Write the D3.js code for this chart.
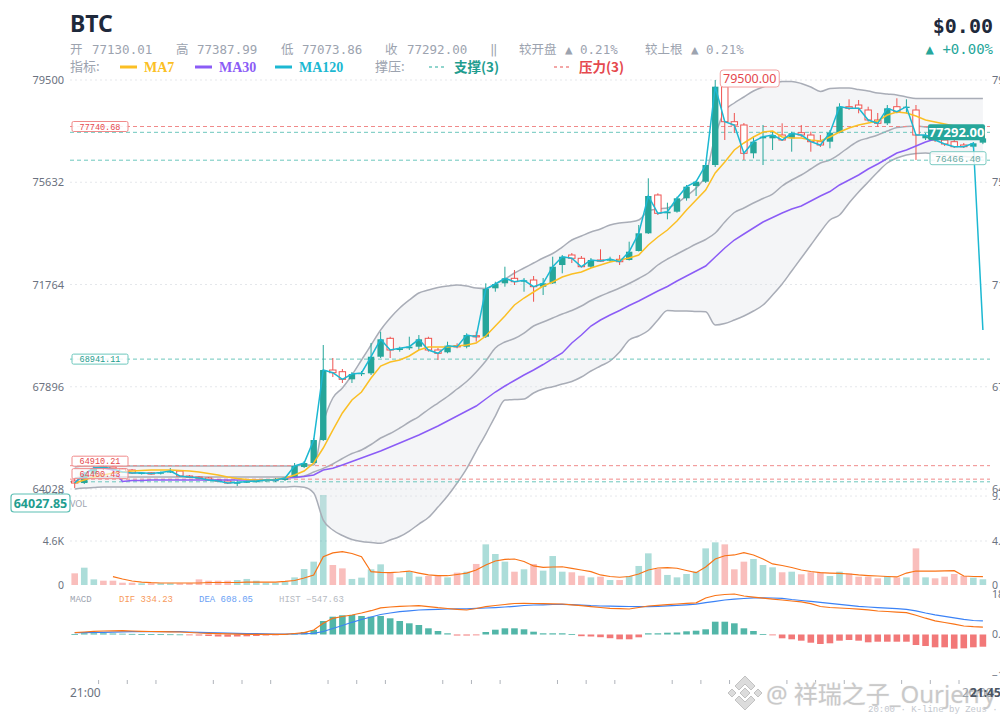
<!DOCTYPE html>
<html>
<head>
<meta charset="utf-8">
<script src="https://cdn.jsdelivr.net/npm/d3@7"></script>
<style>
  body { margin: 0; background: #fff; overflow: hidden; }
  svg { display: block; }
</style>
</head>
<body>
<svg id="chart" width="1000" height="720"></svg>
<script>
// ---- data ----
const symbol = "BTC";
const priceTicks = [64028, 67896, 71764, 75632, 79500];
const volTicks = [0, 4600, 9300];
const macdTicks = [1816.02, 0, -1816.02];
const timeLabels = ["21:00", "20:00", "21:45"];

const opens = [
  64330,64254,64595,64880,64860,64784,64746,64614,64640,64614,
  64651,64708,64519,64481,64443,64368,64330,64254,64273,64311,
  64330,64349,64368,64481,64860,65011,65881,68529,68465,68177,
  68378,68403,69032,69728,69286,69350,69411,69728,69286,69199,
  69449,69411,69827,69789,71620,71809,71998,71870,71934,71681,
  71809,72501,72880,72755,72437,72691,72664,72717,72691,73031,
  73701,75150,74457,74518,75025,75490,75653,76284,79247,77922,
  77798,76727,77294,77294,77419,77294,77506,77419,77166,77166,
  77506,78490,78554,78365,77987,77862,78490,78441,78365,77294,
  77419,77230,77166,77041,76977,77130.01];
const highs = [
  64443,64670,64898,64936,64898,64822,64784,64670,64670,64689,
  64822,64746,64557,64519,64481,64405,64368,64368,64349,64368,
  64405,64443,64481,65011,65087,65957,69475,68983,68567,68454,
  68491,69551,69978,69789,69411,69789,69853,69789,69362,69600,
  69539,69918,69978,71809,71870,72437,72312,72010,72085,72010,
  72815,72880,72955,72842,72766,73095,72815,72880,73383,74015,
  75781,75214,74858,75085,75528,75690,76360,79500,79273,78252,
  77873,77355,77798,77544,77862,77544,77798,77544,77419,77608,
  78619,78770,78743,78490,78252,78554,78808,78770,78554,77495,
  77495,77306,77230,77117,77155,77387.99];
const lows = [
  64065,64216,64519,64746,64708,64633,64595,64576,64576,64576,
  64633,64481,64443,64405,64330,64292,64216,64141,64254,64273,
  64292,64292,64330,64443,64822,64974,65843,68264,68038,68038,
  68302,68340,68983,68983,69222,69286,69286,69222,68908,69161,
  69350,69350,69600,69740,71491,71681,71745,71491,71113,71367,
  71783,72187,72577,72414,72388,72615,72626,72501,72672,73012,
  73674,74393,74230,74480,74934,75112,75604,76209,77230,77495,
  76474,76538,76284,76852,77204,76788,77344,76788,76965,76916,
  77484,78365,78240,77922,77733,77798,78240,78240,76474,77230,
  77155,77003,76928,76928,76928,77073.86];
const closes = [
  64254,64595,64822,64860,64784,64670,64633,64640,64614,64651,
  64708,64519,64481,64443,64368,64330,64254,64273,64311,64330,
  64368,64368,64443,64898,65011,65881,68529,68427,68177,68378,
  68416,69032,69691,69286,69350,69411,69691,69286,69161,69449,
  69411,69853,69789,71594,71783,71998,71870,71923,71681,71809,
  72437,72815,72755,72437,72691,72653,72728,72626,73005,73701,
  75112,74457,74518,75025,75464,75653,76284,79247,77922,77798,
  76727,77166,77355,77419,77230,77484,77419,77166,77041,77506,
  78490,78429,78429,77987,77862,78429,78301,78490,77419,77419,
  77230,77079,76977,76977,77105,77292.00];

const ma7 = [
  64254,64368,64481,64557,64633,64670,64708,64727,64746,64746,
  64746,64727,64708,64670,64614,64557,64481,64424,64387,64368,
  64368,64387,64443,64557,64708,65011,65578,66259,66903,67394,
  67697,68227,68681,68832,68908,69059,69286,69399,69399,69399,
  69437,69475,69551,69815,70194,70572,70988,71253,71480,71707,
  71858,72047,72161,72237,72388,72501,72615,72691,72766,72880,
  73258,73561,73826,74166,74582,74960,75339,75983,76397,76852,
  77117,77344,77533,77570,77344,77306,77306,77230,77192,77344,
  77533,77684,77798,77873,77949,78176,78289,78252,78138,77987,
  77911,77836,77760,77684,77608,77495];
const ma30 = [
  64254,64595,64822,64822,64746,64311,64349,64349,64368,64368,
  64368,64368,64368,64368,64368,64368,64368,64368,64368,64368,
  64368,64368,64443,64462,64500,64557,64746,64810,64935,65068,
  65200,65333,65465,65616,65768,65919,66070,66240,66411,66600,
  66789,66978,67167,67432,67697,67924,68132,68340,68529,68737,
  68964,69172,69551,69853,70194,70421,70610,70780,70969,71140,
  71329,71518,71688,71896,72085,72274,72463,72804,73144,73447,
  73674,73901,74128,74298,74469,74620,74733,74923,75112,75282,
  75528,75717,75906,76133,76322,76530,76738,76852,77003,77155,
  77268,77344,77419,77457,77495,77533];
const ma120 = [
  64254,64595,64822,64860,64784,64670,64633,64640,64614,64651,
  64708,64519,64481,64443,64368,64330,64254,64273,64311,64330,
  64368,64368,64443,64898,65011,65881,68529,68427,68177,68378,
  68416,69032,69691,69286,69350,69411,69691,69286,69161,69449,
  69411,69853,69789,71594,71783,71998,71870,71923,71681,71809,
  72437,72815,72755,72437,72691,72653,72728,72626,73005,73701,
  75112,74457,74518,75025,75464,75653,76284,79247,77922,77798,
  76727,77166,77355,77419,77230,77484,77419,77166,77041,77506,
  78490,78429,78429,77987,77862,78429,78301,78490,77419,77419,
  77230,77079,76977,76977,77105,70042];

const bbUpper = [
  64860,64898,64898,64898,64898,64898,64898,64898,64898,64898,
  64898,64898,64898,64898,64898,64898,64898,64898,64898,64898,
  64898,64898,64898,64898,64935,64935,66524,67470,67849,68340,
  68908,69475,70042,70496,70875,71177,71442,71556,71650,71707,
  71745,71707,71631,71612,71782,71971,72199,72388,72577,72766,
  72936,73182,73447,73598,73750,73863,74015,74090,74128,74204,
  74544,74620,74658,74847,75112,75414,75906,77381,78327,78630,
  78857,79084,79235,79348,79443,79443,79368,79235,79065,79178,
  79197,79197,79140,79084,79008,78970,78932,78857,78800,78800,
  78800,78800,78800,78800,78800,78800];
const bbMid = [
  64443,64481,64481,64481,64481,64481,64481,64481,64481,64481,
  64481,64481,64481,64481,64481,64481,64481,64481,64481,64481,
  64481,64481,64481,64481,64519,64670,64810,64973,65181,65370,
  65503,65711,65957,66127,66335,66562,66770,67035,67281,67527,
  67811,68094,68454,68870,69362,69589,69721,69929,70194,70345,
  70496,70648,70780,70950,71158,71329,71480,71631,71801,71991,
  72199,72501,72728,72918,73107,73296,73466,73712,74128,74487,
  74658,74847,75017,75187,75490,75717,75906,76133,76360,76474,
  76700,76965,77192,77306,77419,77570,77703,77741,77760,77722,
  77665,77608,77570,77514,77476,77419];
const bbLower = [
  64027,64065,64084,64103,64103,64103,64103,64103,64103,64103,
  64103,64103,64103,64103,64103,64103,64103,64103,64103,64103,
  64103,64103,64103,64122,64092,63876,62854,62476,62268,62117,
  62041,62003,61973,62098,62230,62438,62703,62949,63346,63762,
  64254,64803,65465,66108,66789,67394,67413,67432,67659,67811,
  67898,68000,68095,68265,68492,68681,68870,69210,69664,69815,
  70023,70421,70780,70761,70761,70742,70734,70232,70289,70421,
  70572,70761,70988,71367,71782,72274,72766,73258,73750,74204,
  74393,74847,75263,75641,76020,76360,76549,76663,76720,76739,
  76700,76663,76625,76606,76587,76587];

const volumes = [
  1220,1810,590,450,450,240,240,180,180,180,
  180,180,210,590,450,450,450,520,630,450,
  240,240,350,800,1670,2440,9410,2090,1740,630,
  770,1640,2160,1290,800,1390,870,940,940,800,
  1290,1390,2200,4250,3240,2440,1390,1640,2200,1500,
  3030,1390,1330,970,800,870,520,520,940,1990,
  3310,1670,1050,800,1150,1390,3830,4460,4250,1640,
  2440,2720,2090,1850,1330,1390,1120,1330,1330,940,
  1390,1220,870,870,700,940,800,800,3830,800,
  700,870,1150,940,770,600];
const volMA = [
  null,null,null,null,870,630,420,310,240,210,
  210,210,210,210,260,260,260,260,310,310,
  310,310,370,470,730,1050,2960,3350,3480,3290,
  2960,1390,1310,1290,1360,1460,1250,1050,990,970,
  1100,1250,1570,2090,2510,2670,2720,2460,1990,1850,
  1880,1910,1730,1570,1390,1050,890,810,890,1150,
  1570,1780,1810,1750,1520,1290,1880,2720,3060,3140,
  3380,3140,2720,2200,2040,1830,1570,1410,1290,1250,
  1220,1150,1050,990,940,890,840,1250,1460,1460,
  1460,1480,1500,940,890,870];

const dif = [
  81,112,139,157,166,170,157,143,135,126,
  117,112,90,67,54,40,27,18,9,9,
  9,9,9,45,81,202,502,726,807,874,
  964,1067,1193,1233,1264,1278,1291,1251,1202,1166,
  1130,1099,1166,1247,1300,1345,1390,1395,1390,1381,
  1377,1368,1332,1291,1251,1211,1175,1161,1143,1211,
  1278,1309,1341,1368,1395,1421,1637,1749,1794,1816,
  1726,1673,1628,1587,1547,1502,1466,1386,1256,1211,
  1188,1166,1134,1108,1054,1031,1004,978,865,731,
  614,538,462,381,350,334.23];
const dea = [
  81,85,90,99,108,117,126,126,126,126,
  126,126,112,99,85,72,58,49,40,36,
  27,22,22,31,40,54,135,269,404,547,
  673,785,897,964,1022,1063,1099,1112,1130,1143,
  1148,1152,1175,1188,1206,1233,1264,1300,1323,1332,
  1345,1354,1336,1314,1291,1278,1273,1264,1256,1251,
  1247,1264,1287,1309,1332,1359,1430,1489,1547,1583,
  1614,1646,1646,1637,1623,1569,1525,1484,1439,1399,
  1354,1309,1264,1233,1206,1179,1157,1130,1063,964,
  883,816,749,682,628,608.05];
const hist = [
  22,54,54,54,45,36,27,22,18,13,
  9,4,-13,-45,-67,-90,-99,-90,-81,-67,
  -45,-22,13,54,112,202,605,798,861,874,
  830,798,830,726,605,502,426,278,157,54,
  -45,-45,-36,112,215,278,278,233,126,54,
  54,54,22,-76,-90,-121,-166,-215,-215,-126,
  54,54,81,90,143,170,233,574,574,502,
  278,157,22,-36,-170,-215,-278,-368,-426,-395,
  -278,-247,-278,-350,-323,-323,-323,-323,-471,-516,
  -574,-574,-637,-619,-574,-547.63];

const resistLevels = [77740.68, 64910.21, 64400.43];
const supportLevels = [76466.40, 68941.11, 64300];
const lastPriceLine = 77521;
const lowMarker = 64027.85;
const changeFromOpen = "0.21%";
const changeFromPrev = "0.21%";

// ---- setup ----
const svg = d3.select("#chart");
const N = closes.length;
const idx = d3.range(N);
const UP = "#26a69a", DOWN = "#ef5350";
const GRAY = "#9ca3af", AXIS = "#6b7280";
const MONO = "'DejaVu Sans Mono', monospace";
const SANS = "'Noto Sans', 'Noto Sans CJK SC', sans-serif";
const CJK = "'Noto Sans CJK SC', 'Noto Sans', sans-serif";
const LMONO = "'Liberation Mono', monospace";

const x = d3.scaleLinear().domain([0, N - 1]).range([74.7, 982.9]);
const y = d3.scaleLinear().domain([64028, 79500]).range([489, 80]);
const yVol = d3.scaleLinear().domain([0, 4600]).range([585, 541]);
const yMacd = d3.scaleLinear().domain([-1816.02, 1816.02]).range([675, 594]);
const bodyW = 6.4, volW = 6.6;
const isUp = i => closes[i] >= opens[i];

// ---- grid ----
const grid = svg.append("g");
grid.selectAll("line.pg").data(priceTicks).join("line").attr("class", "pg")
  .attr("x1", 70).attr("x2", 990).attr("y1", d => y(d)).attr("y2", d => y(d))
  .attr("stroke", "#e5e7eb").attr("stroke-dasharray", "2,3");
grid.selectAll("line.vg").data(volTicks.filter(d => d > 0)).join("line").attr("class", "vg")
  .attr("x1", 70).attr("x2", 990).attr("y1", d => yVol(d)).attr("y2", d => yVol(d))
  .attr("stroke", "#e5e7eb").attr("stroke-dasharray", "2,3");

// ---- axes ----
function styleAxis(g, size) {
  g.select(".domain").remove();
  g.selectAll("text").attr("font-family", SANS).attr("font-size", size).attr("fill", AXIS);
}
const fmtVol = d => d === 0 ? "0" : d3.format(".1f")(d / 1000) + "K";
svg.append("g").attr("transform", "translate(64,0)")
  .call(d3.axisLeft(y).tickValues(priceTicks).tickSize(0).tickPadding(0).tickFormat(d3.format("d")))
  .call(g => styleAxis(g, 11));
svg.append("g").attr("transform", "translate(992,0)")
  .call(d3.axisRight(y).tickValues(priceTicks).tickSize(0).tickPadding(0).tickFormat(d3.format("d")))
  .call(g => styleAxis(g, 11));
svg.append("g").attr("transform", "translate(64,0)")
  .call(d3.axisLeft(yVol).tickValues(volTicks).tickSize(0).tickPadding(0).tickFormat(fmtVol))
  .call(g => styleAxis(g, 10.5));
svg.append("g").attr("transform", "translate(992,0)")
  .call(d3.axisRight(yVol).tickValues(volTicks).tickSize(0).tickPadding(0).tickFormat(fmtVol))
  .call(g => styleAxis(g, 10.5));
svg.append("g").attr("transform", "translate(992,0)")
  .call(d3.axisRight(yMacd).tickValues(macdTicks).tickSize(0).tickPadding(0).tickFormat(d3.format(".2f")))
  .call(g => styleAxis(g, 10.5));

// ---- volume ----
svg.append("g").selectAll("rect").data(idx).join("rect")
  .attr("x", i => x(i) - volW / 2).attr("width", volW)
  .attr("y", i => yVol(volumes[i])).attr("height", i => yVol(0) - yVol(volumes[i]))
  .attr("fill", i => isUp(i) ? UP : DOWN).attr("fill-opacity", 0.38);
svg.append("path").datum(idx)
  .attr("d", d3.line().defined(i => volMA[i] != null).x(i => x(i)).y(i => yVol(volMA[i])))
  .attr("fill", "none").attr("stroke", "#f97316").attr("stroke-width", 1.2);
svg.append("text").attr("x", 70).attr("y", 507).text("VOL")
  .attr("font-family", SANS).attr("font-size", 9).attr("fill", GRAY);

// ---- macd ----
svg.append("g").selectAll("rect").data(idx).join("rect")
  .attr("x", i => x(i) - volW / 2).attr("width", volW)
  .attr("y", i => Math.min(yMacd(hist[i]), yMacd(0)))
  .attr("height", i => Math.max(0.8, Math.abs(yMacd(hist[i]) - yMacd(0))))
  .attr("fill", i => hist[i] >= 0 ? "#3fae9f" : "#ef5a5a")
  .attr("fill-opacity", i => hist[i] >= 0 ? 0.9 : 0.82);
svg.append("path").datum(idx)
  .attr("d", d3.line().x(i => x(i)).y(i => yMacd(dea[i])))
  .attr("fill", "none").attr("stroke", "#3b82f6").attr("stroke-width", 1.2);
svg.append("path").datum(idx)
  .attr("d", d3.line().x(i => x(i)).y(i => yMacd(dif[i])))
  .attr("fill", "none").attr("stroke", "#f97316").attr("stroke-width", 1.2);
const macdLbl = svg.append("text").attr("y", 602).attr("font-family", LMONO).attr("font-size", 9);
macdLbl.append("tspan").attr("x", 70).attr("fill", GRAY).text("MACD");
macdLbl.append("tspan").attr("x", 119).attr("fill", "#f79a5c").text("DIF " + d3.format(".2f")(dif[N - 1]));
macdLbl.append("tspan").attr("x", 199).attr("fill", "#6aa1f5").text("DEA " + d3.format(".2f")(dea[N - 1]));
macdLbl.append("tspan").attr("x", 279).attr("fill", "#b6bac2").text("HIST " + d3.format(".2f")(hist[N - 1]));

// ---- bollinger ----
const bbArea = d3.area().x(i => x(i)).y0(i => y(bbLower[i])).y1(i => y(bbUpper[i])).curve(d3.curveMonotoneX);
svg.append("path").datum(idx).attr("d", bbArea).attr("fill", "#dfe2e8").attr("fill-opacity", 0.33);
[bbUpper, bbMid, bbLower].forEach(s => {
  svg.append("path").datum(idx)
    .attr("d", d3.line().x(i => x(i)).y(i => y(s[i])).curve(d3.curveMonotoneX))
    .attr("fill", "none").attr("stroke", "#a9adb7").attr("stroke-width", 1.5);
});

// ---- support / resistance ----
const lvl = svg.append("g");
const levelLine = (v, c) => lvl.append("line").attr("x1", 70).attr("x2", 990)
  .attr("y1", y(v)).attr("y2", y(v)).attr("stroke", c).attr("stroke-width", 1)
  .attr("stroke-dasharray", "4,3");
supportLevels.forEach(v => levelLine(v, "#6cc7bd"));
levelLine(lastPriceLine, "#6cc7bd");
resistLevels.forEach(v => levelLine(v, "#f08a8a"));

// ---- candles ----
const cg = svg.append("g").selectAll("g").data(idx).join("g");
cg.append("line")
  .attr("x1", i => x(i)).attr("x2", i => x(i))
  .attr("y1", i => y(highs[i])).attr("y2", i => y(lows[i]))
  .attr("stroke", i => isUp(i) ? UP : DOWN).attr("stroke-width", 1);
cg.append("rect")
  .attr("x", i => x(i) - bodyW / 2).attr("width", bodyW)
  .attr("y", i => y(Math.max(opens[i], closes[i])))
  .attr("height", i => Math.max(1.2, Math.abs(y(opens[i]) - y(closes[i]))))
  .attr("fill", i => isUp(i) ? UP : "#fff")
  .attr("stroke", i => isUp(i) ? "none" : DOWN).attr("stroke-width", 1);

// ---- moving averages ----
const maLine = (s, c) => svg.append("path").datum(idx)
  .attr("d", d3.line().x(i => x(i)).y(i => y(s[i])))
  .attr("fill", "none").attr("stroke", c).attr("stroke-width", 1.5);
maLine(ma30, "#8b5cf6");
maLine(ma7, "#fbbf24");
maLine(ma120, "#1cb8d2");

// ---- level tags ----
function tag(v, xl, w, dy, col, txtCol, fill) {
  const g = svg.append("g");
  const cy = y(v) + dy;
  g.append("rect").attr("x", xl).attr("y", cy - 5).attr("width", w).attr("height", 10)
    .attr("rx", 1.5).attr("fill", fill).attr("stroke", col).attr("stroke-width", 1);
  g.append("text").attr("x", xl + w / 2).attr("y", cy + 3).attr("text-anchor", "middle")
    .attr("font-family", LMONO).attr("font-size", 8.5).attr("fill", txtCol)
    .text(d3.format(".2f")(v));
}
tag(resistLevels[0], 72, 56, 0, "#f08a8a", "#e5484d", "rgba(255,255,255,0.85)");
tag(supportLevels[1], 72, 56, 0, "#6cc7bd", "#1f9d8f", "rgba(255,255,255,0.85)");
tag(resistLevels[1], 72, 56, -4.5, "#f08a8a", "#e5484d", "rgba(255,255,255,0.6)");
tag(resistLevels[2], 72, 56, -5.5, "#f08a8a", "#e5484d", "rgba(255,255,255,0.6)");
// right-side support tag
{
  const cy = y(supportLevels[0]) - 2;
  svg.append("rect").attr("x", 930).attr("y", cy - 6.5).attr("width", 56).attr("height", 13)
    .attr("rx", 2).attr("fill", "rgba(255,255,255,0.85)").attr("stroke", "#7ccbc2");
  svg.append("text").attr("x", 958).attr("y", cy + 3.5).attr("text-anchor", "middle")
    .attr("font-family", LMONO).attr("font-size", 9.5).attr("fill", "#6aa9a2")
    .text(d3.format(".2f")(supportLevels[0]));
}
// last price tag
{
  const cy = y(lastPriceLine);
  svg.append("rect").attr("x", 928).attr("y", cy - 8).attr("width", 57).attr("height", 16)
    .attr("rx", 2).attr("fill", UP);
  svg.append("text").attr("x", 956.5).attr("y", cy + 4.6).attr("text-anchor", "middle")
    .attr("font-family", SANS).attr("font-size", 13).attr("font-weight", 700).attr("fill", "#fff")
    .text(d3.format(".2f")(closes[N - 1]));
}
// high tag
{
  const hi = d3.maxIndex(highs);
  const xl = x(hi) + 5, cy = y(highs[hi]) - 1.5;
  svg.append("rect").attr("x", xl).attr("y", cy - 8.5).attr("width", 59).attr("height", 17)
    .attr("rx", 3).attr("fill", "#fff").attr("stroke", "#f2a0a0");
  svg.append("text").attr("x", xl + 29.5).attr("y", cy + 4.5).attr("text-anchor", "middle")
    .attr("font-family", SANS).attr("font-size", 12.5).attr("fill", "#e5484d")
    .text(d3.format(".2f")(highs[hi]));
}
// low marker on the left
{
  svg.append("rect").attr("x", 11).attr("y", 494).attr("width", 59).attr("height", 18)
    .attr("rx", 3).attr("fill", "#fff").attr("stroke", "#5dbfb4").attr("stroke-width", 1.2);
  svg.append("text").attr("x", 40.5).attr("y", 507.5).attr("text-anchor", "middle")
    .attr("font-family", SANS).attr("font-size", 12.5).attr("font-weight", 700).attr("fill", "#1f9d8f")
    .text(d3.format(".2f")(lowMarker));
}

// ---- x axis ticks ----
const tickIdx = d3.range(2, N, 3).filter(i => (i + 1) % 12 !== 0);
svg.append("g").selectAll("line").data(tickIdx).join("line")
  .attr("x1", i => x(i + 0.5)).attr("x2", i => x(i + 0.5)).attr("y1", 680).attr("y2", 684)
  .attr("stroke", "#b0b4bb");
svg.append("text").attr("x", 70).attr("y", 697).text(timeLabels[0])
  .attr("font-family", SANS).attr("font-size", 12).attr("fill", AXIS);

// ---- watermark ----
{
  const wm = svg.append("g").attr("fill", "#dcdcdc").attr("stroke", "#c2c2c2").attr("stroke-width", 1);
  const cx = 745, cy = 693;
  const dia = (px, py, r) => `M${px},${py - r}L${px + r},${py}L${px},${py + r}L${px - r},${py}Z`;
  wm.append("path").attr("d", dia(cx, cy, 5));
  wm.append("path").attr("d", dia(cx - 13, cy, 4));
  wm.append("path").attr("d", dia(cx + 13, cy, 4));
  wm.append("path").attr("d", `M${cx - 10},${cy - 7}L${cx},${cy - 17}L${cx + 10},${cy - 7}L${cx + 6},${cy - 3}L${cx},${cy - 9}L${cx - 6},${cy - 3}Z`);
  wm.append("path").attr("d", `M${cx - 10},${cy + 7}L${cx},${cy + 17}L${cx + 10},${cy + 7}L${cx + 6},${cy + 3}L${cx},${cy + 9}L${cx - 6},${cy + 3}Z`);
  svg.append("text").attr("x", 766).attr("y", 703)
    .attr("font-family", SANS).attr("font-size", 24)
    .attr("fill", "#c9c9c9").attr("stroke", "#f4f4f4").attr("stroke-width", 0.8)
    .attr("paint-order", "stroke")
    .text("@ 祥瑞之子_Ourjerry");
  svg.append("text").attr("x", 868).attr("y", 712)
    .attr("font-family", LMONO).attr("font-size", 9).attr("fill", "#c3c7ce")
    .text("20:00 · K-line by Zeus ·");
}
// right-edge time labels sit on top of the watermark, as in the source
svg.append("text").attr("x", 962).attr("y", 697).text(timeLabels[1])
  .attr("font-family", SANS).attr("font-size", 12).attr("fill", "#9aa0a8");
svg.append("text").attr("x", 970).attr("y", 697).text(timeLabels[2])
  .attr("font-family", SANS).attr("font-size", 12).attr("font-weight", 700).attr("fill", "#4b5563");

// ---- header ----
svg.append("text").attr("x", 70).attr("y", 32).text(symbol)
  .attr("font-family", SANS).attr("font-size", 23).attr("font-weight", 700).attr("fill", "#1e293b");
svg.append("text").attr("x", 993).attr("y", 33).attr("text-anchor", "end").text("$0.00")
  .attr("font-family", MONO).attr("font-size", 20).attr("font-weight", 700).attr("fill", "#1e293b");
svg.append("text").attr("x", 993).attr("y", 54).attr("text-anchor", "end").text("▲ +0.00%")
  .attr("font-family", MONO).attr("font-size", 14).attr("fill", UP);

const f2 = d3.format(".2f");
const row = svg.append("text").attr("y", 54).attr("fill", GRAY).attr("font-size", 12.5);
[["开", 70, CJK], [f2(opens[N - 1]), 92, MONO],
 ["高", 176, CJK], [f2(highs[N - 1]), 197, MONO],
 ["低", 281, CJK], [f2(lows[N - 1]), 302, MONO],
 ["收", 385, CJK], [f2(closes[N - 1]), 407, MONO],
 ["‖", 490, MONO],
 ["较开盘", 519, CJK], ["▲ " + changeFromOpen, 565, MONO],
 ["较上根", 645, CJK], ["▲ " + changeFromPrev, 691, MONO]
].forEach(([t, px, ff]) => row.append("tspan").attr("x", px).attr("font-family", ff).text(t));

const lg = svg.append("g");
lg.append("text").attr("x", 70).attr("y", 71).text("指标:")
  .attr("font-family", CJK).attr("font-size", 13).attr("fill", GRAY);
[["MA7", "#fbbf24", 120], ["MA30", "#8b5cf6", 195], ["MA120", "#1cb8d2", 275]].forEach(([t, c, px]) => {
  lg.append("line").attr("x1", px).attr("x2", px + 17).attr("y1", 67).attr("y2", 67)
    .attr("stroke", c).attr("stroke-width", 3);
  lg.append("text").attr("x", px + 24).attr("y", 72).text(t)
    .attr("font-family", "'Liberation Serif', serif").attr("font-size", 14).attr("font-weight", 700).attr("fill", c);
});
lg.append("text").attr("x", 375).attr("y", 71).text("撑压:")
  .attr("font-family", CJK).attr("font-size", 13).attr("fill", GRAY);
[["支撑(" + supportLevels.length + ")", "#6cc7bd", "#1f9d8f", 429], ["压力(" + resistLevels.length + ")", "#f08a8a", "#e5484d", 554]]
  .forEach(([t, lc, tc, px]) => {
    lg.append("line").attr("x1", px).attr("x2", px + 17).attr("y1", 67).attr("y2", 67)
      .attr("stroke", lc).attr("stroke-width", 1.5).attr("stroke-dasharray", "3,3");
    lg.append("text").attr("x", px + 25).attr("y", 72).text(t)
      .attr("font-family", CJK).attr("font-size", 13.5).attr("font-weight", 700).attr("fill", tc);
  });
</script>
</body>
</html>
